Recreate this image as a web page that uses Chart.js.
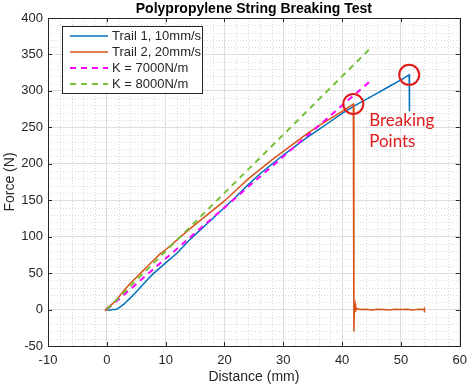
<!DOCTYPE html>
<html>
<head>
<meta charset="utf-8">
<script src="https://cdn.jsdelivr.net/npm/chart.js@4/dist/chart.umd.min.js"></script>
<style>
  html, body { margin: 0; padding: 0; background: #fff; }
  #wrap { width: 474px; height: 386px; }
</style>
</head>
<body>
<div id="wrap"><canvas id="chart" width="474" height="386"></canvas></div>
<script>
// ---- data ----
var trail1X = [-0.3, 0.5, 1, 1.5, 2, 3, 4, 5, 6, 7, 8, 10, 12, 14, 16, 18, 20, 22, 24, 26, 28, 30, 32, 34, 36, 38, 40, 42, 44, 46, 48, 50, 51.4, 51.45];
var trail1Y = [0, -1, 0, 0, 2, 8, 16, 24, 33, 42, 50, 64, 78, 95, 110, 125, 140, 155, 171, 186, 199, 212, 224, 236, 247, 258, 269, 279, 288, 297, 306, 315, 322, 272];

var trail2X = [-0.3, 0, 1, 2, 3, 4, 5, 6, 7, 8, 9, 10, 12, 14, 16, 18, 20, 22, 24, 26, 28, 30, 32, 34, 36, 38, 40, 41.9, 42.0, 42.1, 42.2, 42.3, 42.4, 42.6, 43, 44, 45, 46, 47, 48, 49, 50, 51, 52, 53, 54, 54, 54];
var trail2Y = [-2, 2, 8, 17, 27, 36, 44, 52, 60, 68, 76, 82, 96, 110, 123, 136, 149, 164, 179, 192, 205, 217, 229, 241, 252, 262, 272, 282, -30, 5, 8, -3, 2, 1, 0, 0.5, -0.5, 0.5, 0, -0.5, 0.5, 0, 0.5, -0.5, 0.5, 0, -4, 3];

var k7000X = [0, 45];
var k7000Y = [0, 315];
var k8000X = [0, 45];
var k8000Y = [0, 360];

var breakX = [41.9, 51.4];
var breakY = [282, 322];

var xTicks = [-10, 0, 10, 20, 30, 40, 50, 60];
var yTicks = [-50, 0, 50, 100, 150, 200, 250, 300, 350, 400];

function pts(xs, ys) {
    return xs.map(function (x, i) { return { x: x, y: ys[i] }; });
}

var FONT = '"Liberation Sans", Arial, sans-serif';
var TXT = '#262626';

// ---- plugin: minor grid, axes box with inward ticks, title, legend, annotation ----
var matlabAxes = {
    id: 'matlabAxes',
    beforeDatasetsDraw: function (chart) {
        var ctx = chart.ctx, a = chart.chartArea;
        var xs = chart.scales.x, ys = chart.scales.y;
        ctx.save();
        ctx.strokeStyle = '#d9d9d9';
        ctx.lineWidth = 1;
        ctx.setLineDash([1, 2]);
        var v, p;
        for (v = xs.min; v <= xs.max; v += 2) {
            if (v % 10 === 0) continue;
            p = Math.round(xs.getPixelForValue(v)) + 0.5;
            ctx.beginPath(); ctx.moveTo(p, a.top); ctx.lineTo(p, a.bottom); ctx.stroke();
        }
        for (v = ys.min; v <= ys.max; v += 10) {
            if (v % 50 === 0) continue;
            p = Math.round(ys.getPixelForValue(v)) + 0.5;
            ctx.beginPath(); ctx.moveTo(a.left, p); ctx.lineTo(a.right, p); ctx.stroke();
        }
        ctx.restore();
    },
    afterDraw: function (chart) {
        var ctx = chart.ctx, a = chart.chartArea;
        var xs = chart.scales.x, ys = chart.scales.y;
        ctx.save();
        // box
        ctx.strokeStyle = '#262626';
        ctx.lineWidth = 1;
        ctx.strokeRect(Math.round(a.left) + 0.5, Math.round(a.top) + 0.5,
            Math.round(a.right - a.left), Math.round(a.bottom - a.top));
        // inward ticks
        var tl = 4;
        xTicks.forEach(function (t) {
            var p = Math.round(xs.getPixelForValue(t)) + 0.5;
            ctx.beginPath();
            ctx.moveTo(p, a.bottom); ctx.lineTo(p, a.bottom - tl);
            ctx.moveTo(p, a.top); ctx.lineTo(p, a.top + tl);
            ctx.stroke();
        });
        yTicks.forEach(function (t) {
            var p = Math.round(ys.getPixelForValue(t)) + 0.5;
            ctx.beginPath();
            ctx.moveTo(a.left, p); ctx.lineTo(a.left + tl, p);
            ctx.moveTo(a.right, p); ctx.lineTo(a.right - tl, p);
            ctx.stroke();
        });

        // title
        ctx.fillStyle = '#000';
        ctx.font = 'bold 14px ' + FONT;
        ctx.textAlign = 'center';
        ctx.textBaseline = 'middle';
        ctx.fillText('Polypropylene String Breaking Test', (a.left + a.right) / 2, 9);

        // legend box
        var lx = a.left + 14, ly = a.top + 8, lw = 140, lh = 67;
        ctx.fillStyle = '#fff';
        ctx.fillRect(lx, ly, lw, lh);
        ctx.strokeStyle = '#262626';
        ctx.strokeRect(lx + 0.5, ly + 0.5, lw, lh);
        ctx.font = '13px ' + FONT;
        ctx.textAlign = 'left';
        chart.data.datasets.forEach(function (ds, i) {
            if (!ds.inLegend) return;
            var rowY = ly + 10 + i * 16;
            ctx.save();
            ctx.strokeStyle = ds.borderColor;
            ctx.lineWidth = ds.borderWidth;
            ctx.setLineDash(ds.borderDash || []);
            ctx.beginPath();
            ctx.moveTo(lx + 8, rowY); ctx.lineTo(lx + 46, rowY);
            ctx.stroke();
            ctx.restore();
            ctx.fillStyle = TXT;
            ctx.fillText(ds.label, lx + 50, rowY);
        });

        // annotation text
        ctx.fillStyle = '#e01b1b';
        ctx.font = '17px Lato, "Open Sans", sans-serif';
        ctx.textAlign = 'left';
        ctx.fillText('Breaking', xs.getPixelForValue(44.6), ys.getPixelForValue(259));
        ctx.fillText('Points', xs.getPixelForValue(44.6), ys.getPixelForValue(231));
        ctx.restore();
    }
};

new Chart(document.getElementById('chart'), {
    type: 'scatter',
    data: {
        datasets: [{
            label: 'Trail 1, 10mm/s',
            data: pts(trail1X, trail1Y),
            showLine: true,
            borderColor: '#0072BD',
            borderWidth: 1.5,
            pointRadius: 0,
            order: 4,
            inLegend: true
        }, {
            label: 'Trail 2, 20mm/s',
            data: pts(trail2X, trail2Y),
            showLine: true,
            borderColor: '#D95319',
            borderWidth: 1.5,
            pointRadius: 0,
            order: 3,
            inLegend: true
        }, {
            label: 'K = 7000N/m',
            data: pts(k7000X, k7000Y),
            showLine: true,
            borderColor: '#FF00FF',
            borderWidth: 2,
            borderDash: [6, 5],
            pointRadius: 0,
            order: 2,
            inLegend: true
        }, {
            label: 'K = 8000N/m',
            data: pts(k8000X, k8000Y),
            showLine: true,
            borderColor: '#77C13A',
            borderWidth: 2,
            borderDash: [6, 5],
            pointRadius: 0,
            order: 1,
            inLegend: true
        }, {
            label: 'Breaking points',
            data: pts(breakX, breakY),
            showLine: false,
            pointStyle: 'circle',
            pointRadius: 10,
            pointBorderWidth: 2,
            pointBorderColor: '#e01b1b',
            pointBackgroundColor: 'rgba(0,0,0,0)',
            order: 0,
            inLegend: false
        }]
    },
    options: {
        responsive: false,
        animation: false,
        layout: { padding: { left: 2, right: 9, top: 18, bottom: 0 } },
        plugins: {
            legend: { display: false },
            tooltip: { enabled: false }
        },
        scales: {
            x: {
                type: 'linear',
                min: -10,
                max: 60,
                afterBuildTicks: function (s) { s.ticks = xTicks.map(function (v) { return { value: v }; }); },
                ticks: { color: TXT, font: { family: FONT, size: 13 }, padding: 7 },
                grid: { color: '#dedede', drawTicks: false },
                border: { display: false },
                title: { display: true, text: 'Distance (mm)', color: TXT, font: { family: FONT, size: 14 }, padding: { top: 2, bottom: 0 } },
                afterFit: function (s) { s.height = 40; }
            },
            y: {
                type: 'linear',
                min: -50,
                max: 400,
                afterBuildTicks: function (s) { s.ticks = yTicks.map(function (v) { return { value: v }; }); },
                ticks: { color: TXT, font: { family: FONT, size: 13 }, padding: 5 },
                grid: { color: '#dedede', drawTicks: false },
                border: { display: false },
                title: { display: true, text: 'Force (N)', color: TXT, font: { family: FONT, size: 14 }, padding: { top: 0, bottom: 0 } },
                afterFit: function (s) { s.width = 46; }
            }
        }
    },
    plugins: [matlabAxes]
});
</script>
</body>
</html>
